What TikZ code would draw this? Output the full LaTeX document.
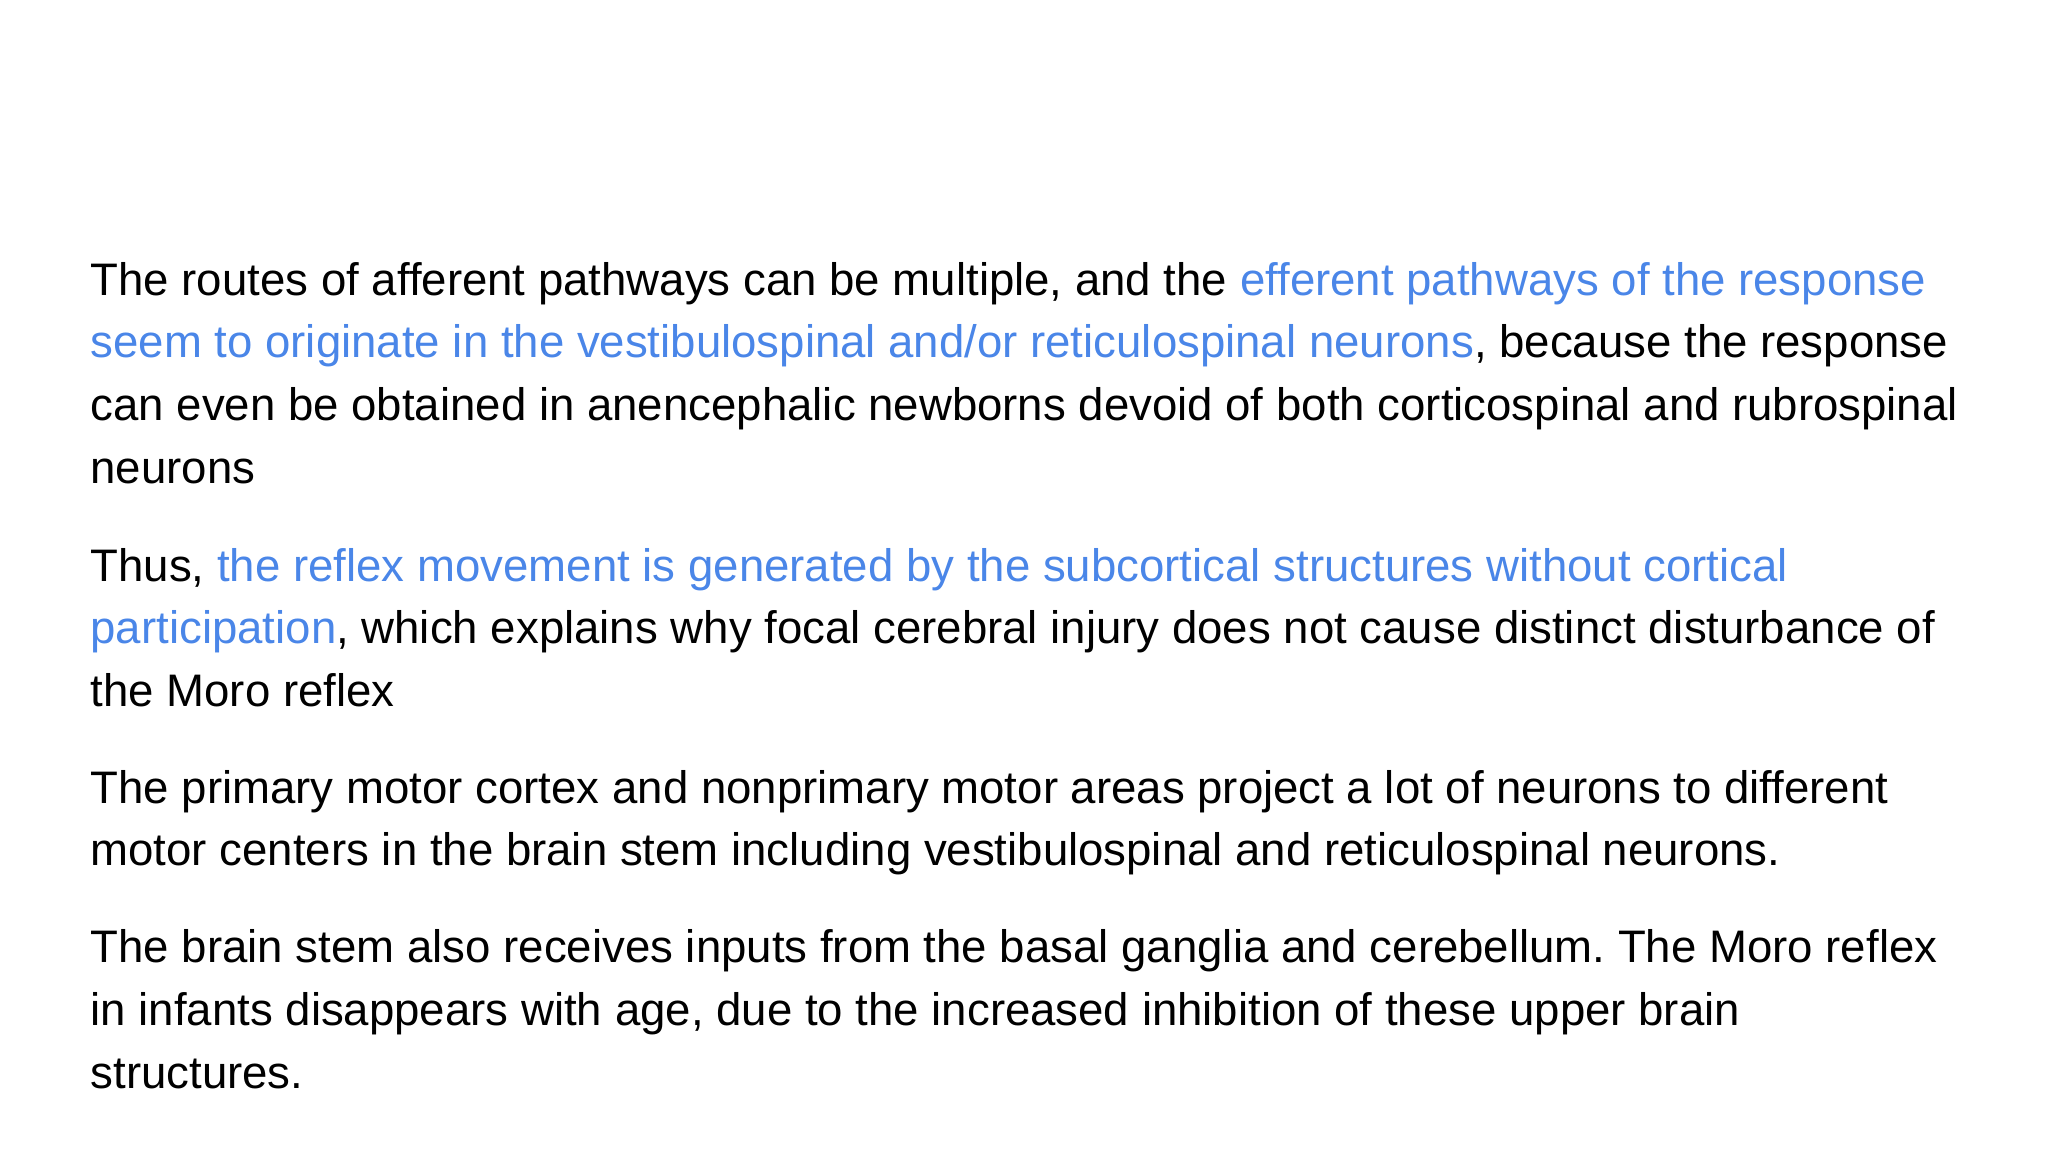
\documentclass[tikz,border=0pt]{standalone}
\usepackage{fontspec}
\setmainfont{Liberation Sans}
\definecolor{lb}{HTML}{4A86E8}
\frenchspacing
\begin{document}
\begin{tikzpicture}[x=0.49pt,y=-0.49pt,
  ln/.style={anchor=base west,inner sep=0pt,font=\fontsize{17.1}{20}\selectfont}]
\useasboundingbox (0,0) rectangle (1568,882);
\node[ln] (a1) at (69,226) {The routes of afferent pathways can be multiple, and the \textcolor{lb}{efferent pathways of the response}};
\node[ln] (a2) at (69,274) {\textcolor{lb}{seem to originate in the vestibulospinal and/or reticulospinal neurons}, because the response};
\node[ln] (a3) at (69,322) {can even be obtained in anencephalic newborns devoid of both corticospinal and rubrospinal};
\node[ln] (a4) at (69,370) {neurons};
\node[ln] (b1) at (69,445) {Thus, \textcolor{lb}{the reflex movement is generated by the subcortical structures without cortical}};
\node[ln] (b2) at (69,493) {\textcolor{lb}{participation}, which explains why focal cerebral injury does not cause distinct disturbance of};
\node[ln] (b3) at (69,541) {the Moro reflex};
\node[ln] (c1) at (69,615) {The primary motor cortex and nonprimary motor areas project a lot of neurons to different};
\node[ln] (c2) at (69,663) {motor centers in the brain stem including vestibulospinal and reticulospinal neurons.};
\node[ln] (d1) at (69,737) {The brain stem also receives inputs from the basal ganglia and cerebellum. The Moro reflex};
\node[ln] (d2) at (69,785) {in infants disappears with age, due to the increased inhibition of these upper brain};
\node[ln] (d3) at (69,833) {structures.};
\end{tikzpicture}
\end{document}
